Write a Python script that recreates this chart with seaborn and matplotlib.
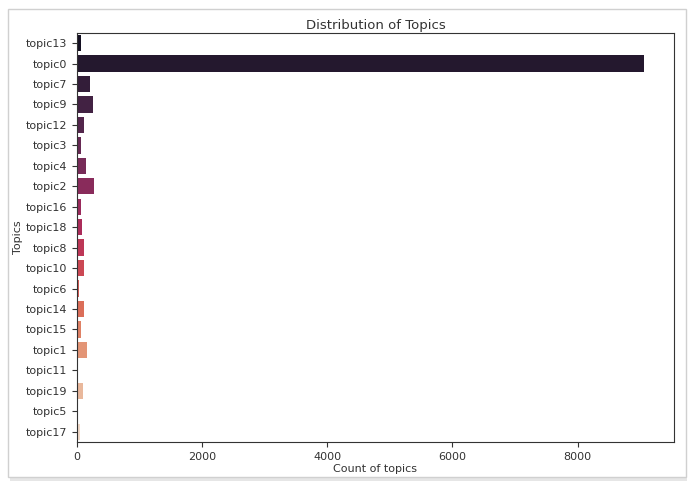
import seaborn as sns
import matplotlib.pyplot as plt
import pandas as pd
from matplotlib.patches import Rectangle

topics = ["topic13", "topic0", "topic7", "topic9", "topic12", "topic3", "topic4",
          "topic2", "topic16", "topic18", "topic8", "topic10", "topic6", "topic14",
          "topic15", "topic1", "topic11", "topic19", "topic5", "topic17"]
counts = [70, 9070, 200, 262, 107, 70, 138, 278, 70, 85, 112, 112, 26, 107,
          70, 165, 20, 90, 10, 55]

df = pd.DataFrame({"topic": topics, "count": counts})

fig = plt.figure(figsize=(6.94, 4.9), dpi=100)

# screenshot-like frame with a soft shadow
fig.patches.append(Rectangle((0.014, 0.018), 0.976, 0.962, transform=fig.transFigure,
                             facecolor="#e6e6e6", edgecolor="none", zorder=-2))
fig.patches.append(Rectangle((0.012, 0.026), 0.976, 0.955, transform=fig.transFigure,
                             facecolor="white", edgecolor="#d0d0d0", linewidth=1.0, zorder=-1))

ax = fig.add_axes([0.111, 0.098, 0.86, 0.835])
sns.barplot(data=df, x="count", y="topic", hue="topic", palette="rocket",
            legend=False, ax=ax, order=topics)
ax.set_xlim(0, 9540)
ax.set_xticks([0, 2000, 4000, 6000, 8000])
ax.tick_params(labelsize=8, colors="#333333")
ax.set_title("Distribution of Topics", fontsize=9.5, color="#333333", pad=3)
ax.set_xlabel("Count of topics", fontsize=8, color="#333333", labelpad=2)
ax.set_ylabel("Topics", fontsize=8, color="#333333", labelpad=2)
for s in ax.spines.values():
    s.set_color("#333333")

plt.savefig("out.png", dpi=100)
